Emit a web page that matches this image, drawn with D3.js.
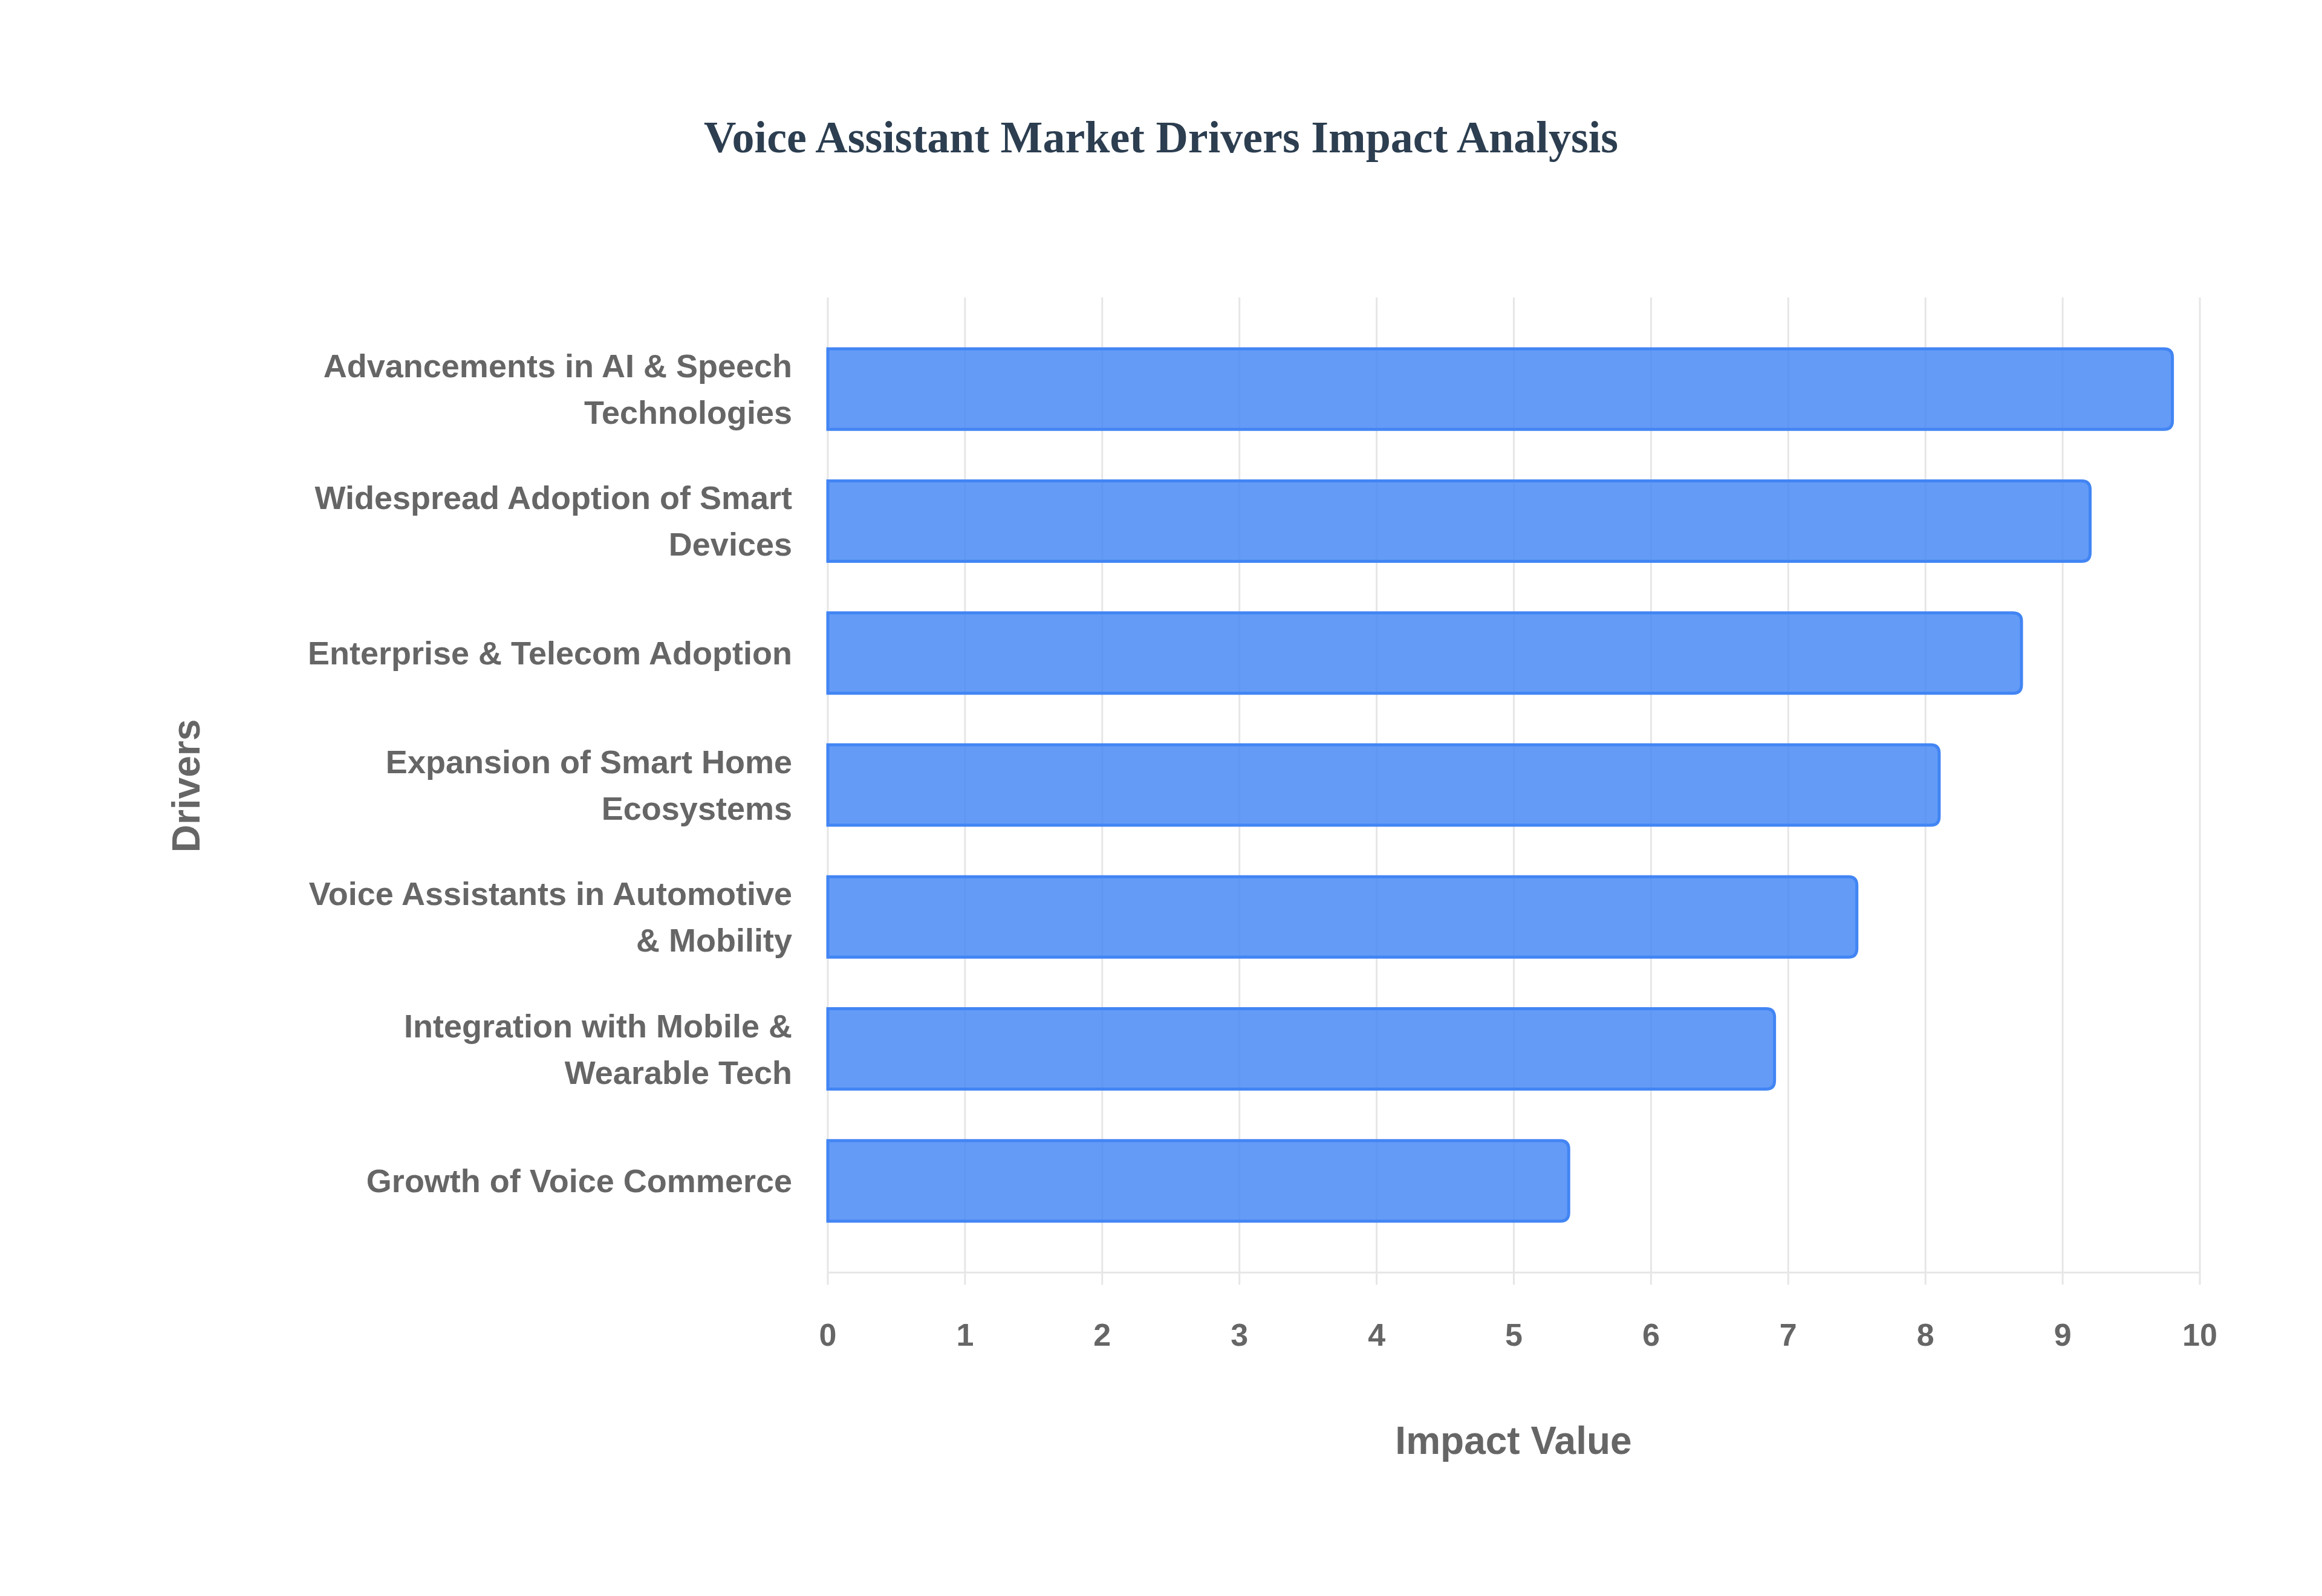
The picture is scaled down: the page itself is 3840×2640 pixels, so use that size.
<!DOCTYPE html>
<html><head><meta charset="utf-8">
<script src="https://cdn.jsdelivr.net/npm/d3@7"></script>
<style>body{margin:0;background:#fff}</style></head>
<body><svg id="c" width="3840" height="2640"></svg>
<script>
const categories = [
  ["Advancements in AI & Speech","Technologies"],
  ["Widespread Adoption of Smart","Devices"],
  ["Enterprise & Telecom Adoption"],
  ["Expansion of Smart Home","Ecosystems"],
  ["Voice Assistants in Automotive","& Mobility"],
  ["Integration with Mobile &","Wearable Tech"],
  ["Growth of Voice Commerce"]
];
const values = [9.8, 9.2, 8.7, 8.1, 7.5, 6.9, 5.4];
const ticks = [0,1,2,3,4,5,6,7,8,9,10];

const svg = d3.select("#c");
const L=1369,R=3638,T=492,B=2105;
const x = d3.scaleLinear().domain([0,10]).range([L,R]);
const y = d3.scaleBand().domain(d3.range(categories.length)).range([T,B]).padding(0.39);

svg.append("text").attr("x",1920).attr("y",252).attr("text-anchor","middle")
  .attr("font-family","Liberation Serif").attr("font-weight","bold").attr("font-size",74)
  .attr("fill","#2c3e50").text("Voice Assistant Market Drivers Impact Analysis");

svg.append("g").selectAll("line").data(ticks).join("line")
  .attr("x1",d=>x(d)).attr("x2",d=>x(d)).attr("y1",T).attr("y2",B+20)
  .attr("stroke","#e6e6e6").attr("stroke-width",3);
svg.append("line").attr("x1",L).attr("x2",R).attr("y1",B).attr("y2",B).attr("stroke","#e6e6e6").attr("stroke-width",3);

const r=14;
svg.append("g").selectAll("path").data(values).join("path")
  .attr("d",(d,i)=>{const x0=x(0),x1=x(d),y0=y(i),h=y.bandwidth();
    return `M${x0},${y0}H${x1-r}Q${x1},${y0} ${x1},${y0+r}V${y0+h-r}Q${x1},${y0+h} ${x1-r},${y0+h}H${x0}Z`;})
  .attr("fill","rgba(66,133,244,0.82)").attr("stroke","#4285f4").attr("stroke-width",5);

svg.append("g").selectAll("text").data(ticks).join("text")
  .attr("x",d=>x(d)).attr("y",2226).attr("text-anchor","middle")
  .attr("font-family","Liberation Sans").attr("font-weight","bold").attr("font-size",52)
  .attr("fill","#666").text(d=>d);

const lab = svg.append("g").selectAll("text").data(categories).join("text")
  .attr("text-anchor","end").attr("font-family","Liberation Sans").attr("font-weight","bold")
  .attr("font-size",54).attr("fill","#666");
lab.each(function(lines,i){
  const cy=y(i)+y.bandwidth()/2, lh=77;
  const start=cy-(lines.length-1)*lh/2+19;
  d3.select(this).selectAll("tspan").data(lines).join("tspan")
    .attr("x",1310).attr("y",(d,j)=>start+j*lh).text(d=>d);
});

svg.append("text").attr("x",2503).attr("y",2405).attr("text-anchor","middle")
  .attr("font-family","Liberation Sans").attr("font-weight","bold").attr("font-size",64)
  .attr("fill","#666").text("Impact Value");
svg.append("text").attr("transform","translate(330,1300) rotate(-90)").attr("text-anchor","middle")
  .attr("font-family","Liberation Sans").attr("font-weight","bold").attr("font-size",64)
  .attr("fill","#666").text("Drivers");
</script></body></html>
